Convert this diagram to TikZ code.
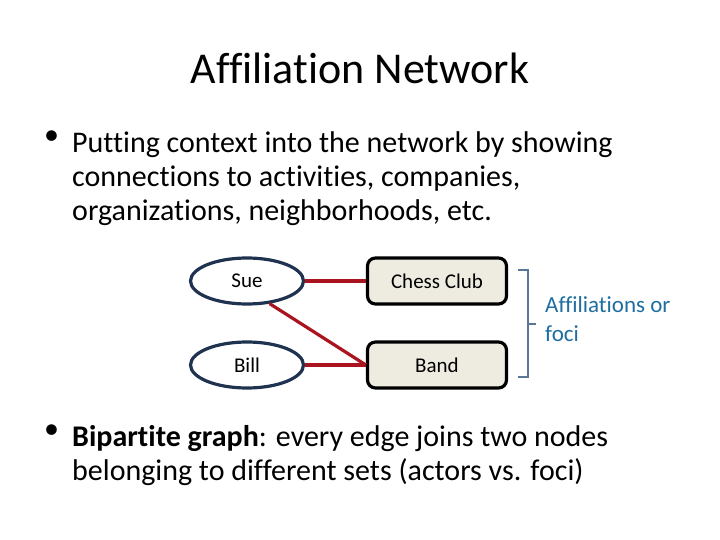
\documentclass[tikz,border=0pt]{standalone}
\usepackage{fontspec}
\setmainfont[Ligatures=NoCommon]{Carlito}
\usetikzlibrary{shapes.geometric}
\definecolor{boxfill}{RGB}{238,236,225}
\definecolor{navy}{RGB}{31,50,80}
\definecolor{edgered}{RGB}{170,20,30}
\definecolor{fociblue}{RGB}{30,110,160}
\definecolor{brk}{RGB}{90,120,150}
\begin{document}
\begin{tikzpicture}[x=1pt,y=-1pt,
  actor/.style={ellipse,draw=navy,line width=3.2pt,minimum width=113pt,minimum height=46pt,inner sep=0pt,font=\fontsize{21}{24}\selectfont},
  focus/.style={rectangle,rounded corners=8pt,draw=black,fill=boxfill,line width=3.2pt,minimum width=139pt,minimum height=46pt,font=\fontsize{21}{24}\selectfont},
  edge/.style={draw=edgered,line width=3.2pt},
  txt/.style={anchor=north west,align=left,inner sep=0pt,font=\fontsize{30}{34}\selectfont}]
\useasboundingbox (0,0) rectangle (720,540);
\node (title) at (360,68) {\fontsize{44}{50}\selectfont Affiliation Network};
\node[txt] (b1dot) at (44,131) {•};
\node[txt] (b1) at (72,131) {Putting context into the network by showing\\connections to activities, companies,\\organizations, neighborhoods, etc.};
\node[actor] (sue) at (247,281) {Sue};
\node[actor] (bill) at (247,365) {Bill};
\node[focus] (chess) at (437,281) {Chess Club};
\node[focus] (band) at (437,365) {Band};
\draw[edge] (sue.east) -- (chess.west);
\draw[edge] (sue.-45) -- (band.west);
\draw[edge] (bill.east) -- (band.west);
\coordinate (bt) at (518,270);
\coordinate (bb) at (518,377);
\coordinate (bm) at (536,324);
\draw[brk,line width=1.2pt] (bt) -- (528,270) -- (528,377) -- (bb);
\draw[brk,line width=1.2pt] (528,324) -- (bm);
\node[anchor=north west,align=left,inner sep=0pt,text=fociblue,font=\fontsize{23}{29}\selectfont] (foci) at (545,296) {Affiliations or\\foci};
\node[txt] (b2dot) at (44,425) {•};
\node[txt] (b2) at (72,425) {\textbf{Bipartite graph}: every edge joins two nodes\\belonging to different sets (actors vs. foci)};
\end{tikzpicture}
\end{document}
